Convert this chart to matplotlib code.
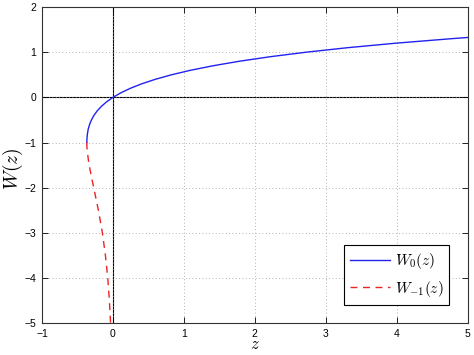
import matplotlib
matplotlib.use("Agg")
import matplotlib.pyplot as plt

# Principal branch W_0(z)
z_w0 = [-0.368, -0.367, -0.366, -0.359, -0.348, -0.329, -0.303, -0.268,
        -0.222, -0.164, -0.090, 0.0, 0.111, 0.244, 0.405, 0.597, 0.824,
        1.093, 1.410, 1.780, 2.214, 2.718, 3.304, 3.984, 4.769, 5.0]
w0 = [-1.0, -0.95, -0.9, -0.8, -0.7, -0.6, -0.5, -0.4, -0.3, -0.2, -0.1,
      0.0, 0.1, 0.2, 0.3, 0.4, 0.5, 0.6, 0.7, 0.8, 0.9, 1.0, 1.1, 1.2,
      1.3, 1.327]

# Lower branch W_{-1}(z)
z_wm1 = [-0.368, -0.367, -0.361, -0.345, -0.323, -0.298, -0.271, -0.205,
         -0.149, -0.106, -0.073, -0.050, -0.034]
wm1 = [-1.0, -1.1, -1.2, -1.4, -1.6, -1.8, -2.0, -2.5, -3.0, -3.5, -4.0,
       -4.5, -5.0]

x_ticks = [-1, 0, 1, 2, 3, 4, 5]
y_ticks = [-5, -4, -3, -2, -1, 0, 1, 2]

plt.rcParams["mathtext.fontset"] = "cm"
plt.rcParams["font.family"] = ["Liberation Sans", "DejaVu Sans"]

fig = plt.figure(figsize=(4.74, 3.55), dpi=100)
ax = fig.add_axes([0.0886, 0.090, 0.898, 0.890])

# Axis lines through the origin
ax.axhline(0, color="k", linewidth=0.8, zorder=1)
ax.axvline(0, color="k", linewidth=0.8, zorder=1)

ax.plot(z_w0, w0, color="#2222ee", linewidth=1.0, label=r"$W_0(z)$")
ax.plot(z_wm1, wm1, color="#ee2222", linewidth=1.0, linestyle=(0, (5, 4)),
        label=r"$W_{-1}(z)$")

ax.set_xlim(-1, 5)
ax.set_ylim(-5, 2)
ax.set_xticks(x_ticks)
ax.set_yticks(y_ticks)

ax.grid(True, linestyle=(0, (1, 3)), color="#999999", linewidth=0.6)
ax.tick_params(direction="in", top=True, right=True, length=4,
               labelsize=7.5, width=0.6, pad=4)
for spine in ax.spines.values():
    spine.set_linewidth(0.8)
    spine.set_color("#333333")

ax.set_xlabel(r"$z$", fontsize=12, labelpad=-1)
ax.set_ylabel(r"$W(z)$", fontsize=14)
# keep the rotated label inside the canvas, left of the tick labels
ax.yaxis.set_label_coords(-0.040, 0.49)

leg = ax.legend(loc="lower right", fontsize=11, fancybox=False,
                framealpha=1, edgecolor="k", handlelength=2.6,
                borderaxespad=1.2, handletextpad=0.3)
leg.get_frame().set_linewidth(0.8)

fig.savefig("out.png", dpi=100)
